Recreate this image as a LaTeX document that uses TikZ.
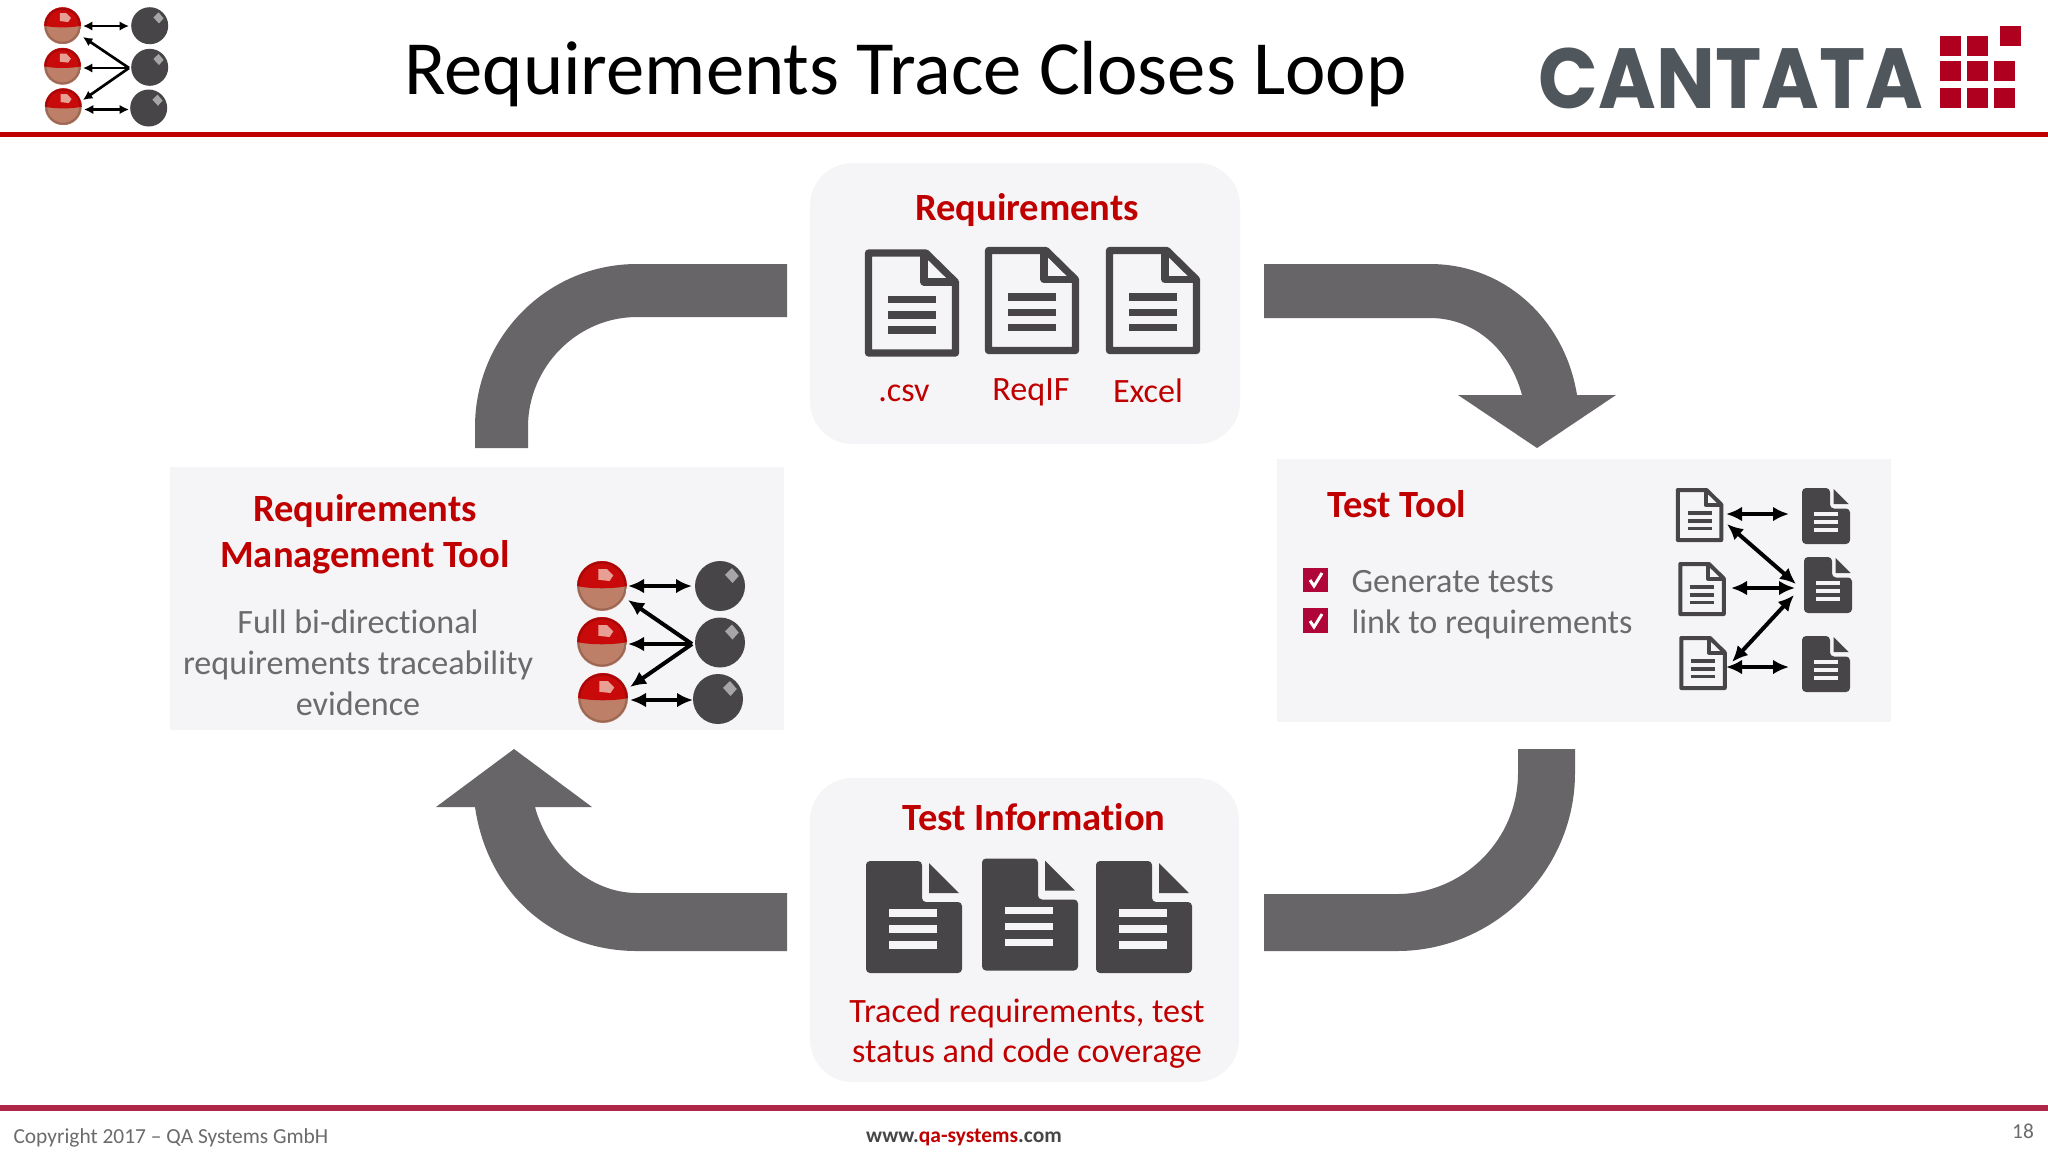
\documentclass[tikz,border=0pt]{standalone}
\usepackage{fontspec}
\setmainfont[Ligatures=NoCommon]{Carlito}
\newfontfamily\logofont{Poppins}
\usetikzlibrary{arrows.meta,calc}
\definecolor{panel}{HTML}{F5F4F6}
\definecolor{redd}{HTML}{C00000}
\definecolor{darkg}{HTML}{474548}
\definecolor{arrowg}{HTML}{676568}
\definecolor{textg}{HTML}{6B6A6C}
\definecolor{logog}{HTML}{4F565C}
\definecolor{logor}{HTML}{B0001F}
\definecolor{footr}{HTML}{AE2648}
\definecolor{checkr}{HTML}{B00538}
\definecolor{tan}{HTML}{BD7F68}
\definecolor{ballred}{HTML}{C90A0A}
\definecolor{ballhi}{HTML}{E8A095}
\newcommand{\fs}[1]{\fontsize{#1}{#1}\selectfont}
\tikzset{
 px/.style={x=0.375pt,y=-0.375pt},
 panelbox/.style={fill=panel,draw=none},
 head/.style={text=redd,font=\fs{14.45}\bfseries,align=center,inner sep=0},
 redtxt/.style={text=redd,font=\fs{12.8},align=center,inner sep=0},
 graytxt/.style={text=textg,font=\fs{12.8},align=center,inner sep=0},
 bigarrow/.style={fill=arrowg,draw=none},
 dbl/.style={{Latex[length=6pt,width=5.5pt]}-{Latex[length=6pt,width=5.5pt]},line width=1.5pt,black},
 sgl/.style={-{Latex[length=6pt,width=5.5pt]},line width=1.5pt,black},
 dbls/.style={{Latex[length=3.5pt,width=3.5pt]}-{Latex[length=3.5pt,width=3.5pt]},line width=1pt,black},
 sgls/.style={-{Latex[length=3.5pt,width=3.5pt]},line width=1pt,black},
 pics/outl/.style={code={
   \draw[darkg,line width=#1,line join=round,fill=panel] (-43.5,-50) -- (14,-50) -- (43.5,-21) -- (43.5,50) -- (-43.5,50) -- cycle;
   \draw[darkg,line width=#1,line join=round] (12,-50) -- (12,-21) -- (43.5,-21);
   \foreach \yy in {-3.5,12,27} \fill[darkg] (-24,\yy-3.7) rectangle (24,\yy+3.7);
 }},
 pics/soliddoc/.style={code={
   \fill[darkg,rounded corners=1.5pt] (-48,-56) -- (8,-56) -- (8,-15) -- (48,-15) -- (48,56) -- (-48,56) -- cycle;
   \fill[darkg] (15,-54) -- (45,-24) -- (15,-24) -- cycle;
   \foreach \yy in {-4,12,28} \fill[panel] (-25,\yy-3.7) rectangle (23,\yy+3.7);
 }},
}
\newcommand{\redball}[3]{%
  \begin{scope}\clip (#1,#2) circle[radius=#3];
    \fill[tan] (#1-#3,#2-#3) rectangle (#1+#3,#2+#3);
    \fill[ballred] (#1-#3,#2-#3) -- (#1+#3,#2-#3) -- (#1+#3,#2+0.0*#3) .. controls (#1+0.5*#3,#2+0.12*#3) and (#1-0.5*#3,#2+0.12*#3) .. (#1-#3,#2+0.0*#3) -- cycle;
  \end{scope}
  \draw[black,opacity=.18,line width=.7pt] (#1,#2) circle[radius=#3-1.5];
  \fill[ballhi] (#1-0.15*#3,#2-0.68*#3) -- (#1+0.2*#3,#2-0.68*#3) -- (#1+0.45*#3,#2-0.42*#3) -- (#1+0.3*#3,#2-0.2*#3) -- (#1-0.15*#3,#2-0.25*#3) -- cycle;
}
\newcommand{\darkball}[3]{%
  \fill[darkg] (#1,#2) circle[radius=#3];
  \fill[gray!70] (#1+0.2*#3,#2-0.45*#3) -- (#1+0.48*#3,#2-0.72*#3) -- (#1+0.75*#3,#2-0.4*#3) -- (#1+0.5*#3,#2-0.12*#3) -- cycle;
}
\begin{document}
\begin{tikzpicture}[px]
\useasboundingbox (0,0) rectangle (2048,1152);
\fill[white] (0,0) rectangle (2048,1152);
% header
\fill[redd] (0,132) rectangle (2048,137);
\node[inner sep=0,font=\fs{28.75}] (title) at (905.5,74) {Requirements Trace Closes Loop};
% footer
\fill[footr] (0,1105) rectangle (2048,1111);
\node[anchor=west,inner sep=0,text=textg,font=\fs{8.03}] (copy) at (13,1137.5) {Copyright 2017 – QA Systems GmbH};
\node[inner sep=0,text=darkg,font=\fs{8.05}\bfseries] (web) at (964,1137.5) {www.\textcolor{redd}{qa-systems}.com};
\node[inner sep=0,text=textg,font=\fs{8}] (pg) at (2023,1131) {18};
% logo
\node[inner sep=0,text=logog,font=\logofont\fs{32}\bfseries,xscale=.918] (logo) at (1731,78) {CANTATA};
\foreach \xx in {1940,1967,1994} \foreach \yy in {61,88} \fill[logor] (\xx,\yy) rectangle +(21,20);
\foreach \xx in {1940,1967} \fill[logor] (\xx,36) rectangle +(21,20);
\fill[logor] (2000,26) rectangle +(21,20);
% panels
\fill[panelbox,rounded corners=16pt] (810,163) rectangle (1240,444);
\fill[panelbox,rounded corners=16pt] (810,778) rectangle (1239,1082);
\fill[panelbox] (170,467) rectangle (784,730);
\fill[panelbox] (1277,459) rectangle (1891,722);
% big arrows
\fill[bigarrow] (787,264) -- (637,264) .. controls (547,264) and (475,337) .. (475,427) -- (475,448) -- (528,448) -- (528,427) .. controls (528,367) and (577,317) .. (637,317) -- (787,317) -- cycle;
\fill[bigarrow] (1264,264) -- (1430,264) .. controls (1505,264) and (1565,320) .. (1577,395) -- (1616,395) -- (1537,448) -- (1458,395) -- (1522,395) .. controls (1510,350) and (1475,318) .. (1430,318) -- (1264,318) -- cycle;
\fill[bigarrow] (1518,749) -- (1518,773) .. controls (1518,840) and (1463,894) .. (1397,894) -- (1264,894) -- (1264,951) -- (1397,951) .. controls (1495,951) and (1575,870) .. (1575,773) -- (1575,749) -- cycle;
\fill[bigarrow] (787,893) -- (637,893) .. controls (590,893) and (548,855) .. (535,807) -- (592,807) -- (514,749) -- (436,807) -- (475,807) .. controls (487,890) and (550,951) .. (637,951) -- (787,951) -- cycle;
% Requirements panel
\node[head] (rq) at (1027,210) {Requirements};
\pic at (912,303) {outl=2.7pt};
\pic at (1032,300.5) {outl=2.7pt};
\pic at (1153,300.5) {outl=2.7pt};
\node[redtxt] (csv) at (904,393.5) {.csv};
\node[redtxt] (reqif) at (1031,392) {ReqIF};
\node[redtxt] (excel) at (1148,391) {Excel};
% Test information panel
\node[head] (ti) at (1034,817) {Test Information};
\pic at (914,917) {soliddoc};
\pic at (1030,914.5) {soliddoc};
\pic at (1144,917) {soliddoc};
\node[redtxt] (tr1) at (1027,1013) {Traced requirements, test};
\node[redtxt] (tr2) at (1027,1054) {status and code coverage};
% RM tool
\node[head] (rm1) at (365,511) {Requirements};
\node[head] (rm2) at (365,557) {Management Tool};
\node[graytxt] (f1) at (358,622) {Full bi-directional};
\node[graytxt] (f2) at (358,665) {requirements traceability};
\node[graytxt] (f3) at (358,704) {evidence};
\redball{602}{586}{25}\redball{602}{642}{25}\redball{603}{698}{25}
\darkball{720}{586}{25}\darkball{720}{642.5}{25}\darkball{718}{699}{25}
\coordinate (a1) at (628,586); \coordinate (b1) at (692,586);
\coordinate (a2) at (628,644); \coordinate (b2) at (692,644);
\coordinate (a3) at (630,700); \coordinate (b3) at (693,700);
\coordinate (a4) at (628,600); \coordinate (a5) at (630,687);
\draw[dbl] (a1) -- (b1); \draw[dbl] (a3) -- (b3);
\draw[sgl] (b2) -- (a2);
\draw[sgl] (b2) -- (a4);
\draw[sgl] (b2) -- (a5);
% Test tool
\node[head,anchor=west] (tt) at (1327,504) {Test Tool};
\fill[checkr] (1303,568) rectangle (1328,592);
\fill[checkr] (1303,608) rectangle (1328,633);
\draw[white,line width=1.1pt] (1310,580) -- (1314,586) -- (1322,573);
\draw[white,line width=1.1pt] (1310,621) -- (1314,627) -- (1322,614);
\node[graytxt,anchor=west] (g1) at (1351,581.5) {Generate tests};
\node[graytxt,anchor=west] (g2) at (1351,624.5) {link to requirements};
\pic[scale=.5] at (1699.5,515) {outl=1.5pt};
\pic[scale=.5] at (1702,589) {outl=1.5pt};
\pic[scale=.5] at (1703,663) {outl=1.5pt};
\pic[scale=.5] at (1826,516) {soliddoc};
\pic[scale=.5] at (1828,585) {soliddoc};
\pic[scale=.5] at (1826,664) {soliddoc};
\coordinate (c1) at (1726,514); \coordinate (d1) at (1789,514);
\coordinate (c2) at (1727,524); \coordinate (d2) at (1796,584);
\coordinate (c3) at (1731,588); \coordinate (d3) at (1795,588);
\coordinate (c4) at (1732,662); \coordinate (d4) at (1794,595);
\coordinate (c5) at (1726,667); \coordinate (d5) at (1789,667);
\draw[dbl] (c1) -- (d1); \draw[dbl] (c2) -- (d2); \draw[dbl] (c3) -- (d3); \draw[dbl] (c4) -- (d4); \draw[dbl] (c5) -- (d5);
% small top-left logo
\redball{62.6}{25.7}{18.5}\redball{62.6}{66.3}{18.5}\redball{63.3}{106.7}{18.5}
\darkball{149.7}{25.7}{18.5}\darkball{149.7}{67.3}{18.5}\darkball{148.7}{108}{18.5}
\coordinate (e1) at (83,26); \coordinate (g1c) at (129,26);
\coordinate (e2) at (83,68); \coordinate (g2c) at (129,68);
\coordinate (e3) at (84,109.5); \coordinate (g3c) at (129,109.5);
\coordinate (e4) at (83,37); \coordinate (e5) at (83,100);
\draw[dbls] (e1) -- (g1c); \draw[dbls] (e3) -- (g3c);
\draw[sgls] (g2c) -- (e2);
\draw[sgls] (g2c) -- (e4);
\draw[sgls] (g2c) -- (e5);
\end{tikzpicture}
\end{document}
